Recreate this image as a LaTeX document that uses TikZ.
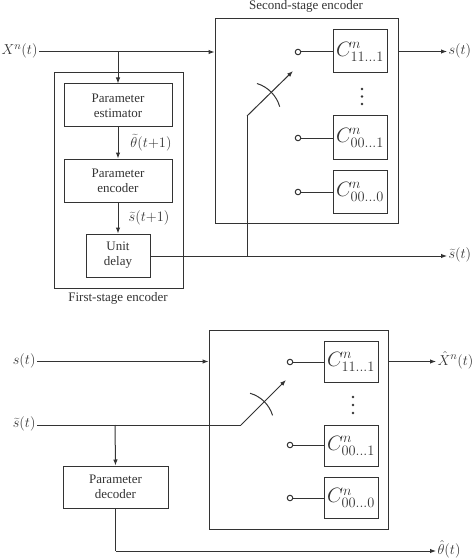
\documentclass[tikz,border=0pt]{standalone}
\usepackage{fontspec}
\setmainfont{Liberation Serif}
\usetikzlibrary{arrows.meta}
\definecolor{ink}{rgb}{0.2,0.2,0.2}
\tikzset{
  box/.style={draw, rectangle, inner sep=0pt, align=center, font=\fontsize{13}{15}\selectfont},
  cbox/.style={draw, rectangle, inner sep=0pt, minimum width=54pt, minimum height=43pt, font=\fontsize{21}{23}\selectfont},
  port/.style={draw, circle, inner sep=0pt, minimum size=5.5pt, fill=white},
  lab/.style={font=\fontsize{15}{17}\selectfont, inner sep=1pt},
  txt/.style={font=\fontsize{13}{15}\selectfont, inner sep=0pt},
  arr/.style={-{Latex[length=6pt,width=4.5pt]}},
  vdot/.style={circle, fill, inner sep=0pt, minimum size=2.8pt}
}
\begin{document}
\begin{tikzpicture}[x=1pt,y=-1pt,line width=1pt, draw=ink, color=ink]
\useasboundingbox (0,0) rectangle (474,559);
% ---------- top: first-stage encoder ----------
\node[box, minimum width=129pt, minimum height=215pt] (fs) at (118.5,180.5) {};
\node[box, minimum width=108pt, minimum height=43pt] (pe) at (118,105.5) {Parameter\\estimator};
\node[box, minimum width=108pt, minimum height=43pt] (penc) at (118,180.5) {Parameter\\encoder};
\node[box, minimum width=64pt, minimum height=43pt] (ud) at (118,255.5) {Unit\\delay};
\node[txt] (fslab) at (118,298) {First-stage encoder};
% ---------- top: second-stage encoder ----------
\node[box, minimum width=183pt, minimum height=204pt] (ss) at (306.5,121) {};
\node[txt] (sslab) at (306,6) {Second-stage encoder};
\node[cbox] (c1) at (360,51.5) {$C^{n}_{11...1}$};
\node[cbox] (c2) at (360,137.5) {$C^{n}_{00...1}$};
\node[cbox] (c3) at (360,191.5) {$C^{n}_{00...0}$};
\node[port] (o1) at (298,52) {};
\node[port] (o2) at (298,138) {};
\node[port] (o3) at (298,192) {};
\draw (o1) -- (c1.west |- o1);
\draw (o2) -- (c2.west |- o2);
\draw (o3) -- (c3.west |- o3);
\node[vdot] (d1) at (362,89) {};
\node[vdot] (d2) at (362,96.5) {};
\node[vdot] (d3) at (362,104) {};
% inputs/outputs top
\coordinate (jn) at (247,256);
\coordinate (piv) at (247,116);
\coordinate (tip) at (293,71);
\coordinate (b1) at (118,52);
\node[lab, anchor=east] (xin) at (39,51) {$X^{n}(t)$};
\draw[arr] (xin.east |- b1) -- (b1 -| ss.west);
\draw[arr] (b1) -- (pe.north);
\draw[arr] (pe) -- (penc);
\draw[arr] (penc) -- (ud);
\node[lab] (thl) at (151,143) {$\widetilde{\theta}(t{+}1)$};
\node[lab] (stl) at (149,218) {$\widetilde{s}(t{+}1)$};
\node[lab, anchor=west] (sout) at (447,51) {$s(t)$};
\draw[arr] (ss.east |- c1) -- (sout.west |- c1);
\node[lab, anchor=west] (stout) at (447,255) {$\widetilde{s}(t)$};
\draw[arr] (ud.east |- jn) -- (stout.west |- jn);
\draw (jn) -- (piv);
\draw[arr] (piv) -- (tip);
\draw ([shift={(-73:34)}]piv) arc[start angle=-73, end angle=-16, radius=34];
% ---------- bottom: decoder ----------
\node[box, minimum width=179pt, minimum height=199pt] (bb) at (298.5,429.5) {};
\node[cbox, minimum height=41pt] (e1) at (351,361.5) {$C^{n}_{11...1}$};
\node[cbox, minimum height=41pt] (e2) at (351,445.5) {$C^{n}_{00...1}$};
\node[cbox, minimum height=41pt] (e3) at (351,498) {$C^{n}_{00...0}$};
\node[port] (p1) at (290,362) {};
\node[port] (p2) at (290,445) {};
\node[port] (p3) at (290,498) {};
\draw (p1) -- (e1.west |- p1);
\draw (p2) -- (e2.west |- p2);
\draw (p3) -- (e3.west |- p3);
\node[vdot] (f1) at (353,397) {};
\node[vdot] (f2) at (353,405) {};
\node[vdot] (f3) at (353,413) {};
\node[box, minimum width=105pt, minimum height=42pt] (pd) at (115.5,487) {Parameter\\decoder};
\coordinate (piv2) at (241,425);
\coordinate (tip2) at (286,380);
\coordinate (b2) at (115,425);
\node[lab, anchor=east] (sin) at (37,361) {$s(t)$};
\draw[arr] (sin.east |- e1) -- (e1 -| bb.west);
\node[lab, anchor=east] (stin) at (37,424) {$\widetilde{s}(t)$};
\draw (stin.east |- piv2) -- (piv2);
\draw[arr] (piv2) -- (tip2);
\draw ([shift={(-74:33)}]piv2) arc[start angle=-74, end angle=-17, radius=33];
\draw[arr] (b2) -- (pd.north);
\node[lab, anchor=west] (xout) at (436,360) {$\hat{X}^{n}(t)$};
\draw[arr] (bb.east |- e1) -- (xout.west |- e1);
\node[lab, anchor=west] (thout) at (436,549) {$\hat{\theta}(t)$};
\coordinate (bt) at (115.5,551);
\draw (pd.south) -- (bt);
\draw[arr] (bt) -- (thout.west |- bt);
\end{tikzpicture}
\end{document}
